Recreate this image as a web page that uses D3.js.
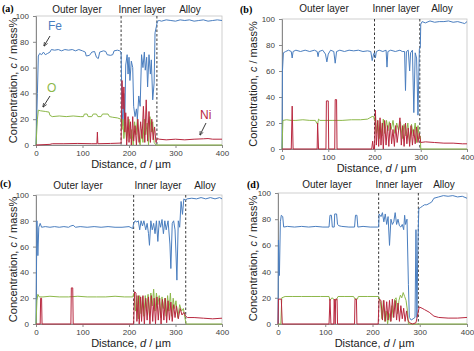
<!DOCTYPE html>
<html>
<head>
<meta charset="utf-8">
<script src="https://cdn.jsdelivr.net/npm/d3@7"></script>
<style>
  body { margin: 0; background: #fff; }
  text { font-family: "Liberation Sans", Arial, sans-serif; }
</style>
</head>
<body>
<div id="plot"></div>
<script>
// tick values and layer names
var xTicks = [0, 100, 200, 300, 400];
var yTicks = [0, 20, 40, 60, 80, 100];
var layerNames = ["Outer layer", "Inner layer", "Alloy"];
var panelNames = ["(a)", "(b)", "(c)", "(d)"];

// layer boundaries (µm) for each panel
var boundA = [183, 260], boundB = [200, 298], boundC = [210, 322], boundD = [213, 297];

// panel (a)  [d (µm), c (mass%)]
var feA = [[0,0],[3,40],[5,69],[8,71],[12,70],[16,72],[20,70],[25,71],[30,72],[33,74],[40,73.5],[48,74],[55,73],[62,74],[70,73.5],[78,74],[85,73],[92,74],[100,73],[106,72],[108,69],[115,69.5],[120,72],[126,72.5],[130,68],[134,67],[137,72],[145,73],[150,72.5],[153,70],[160,69.5],[165,70],[168,73],[175,73.5],[180,73],[183,72],[185,30],[187,15],[189,40],[191,20],[193,62],[196,70],[198,55],[200,68],[202,50],[205,65],[208,60],[210,30],[213,22],[216,28],[218,20],[221,38],[224,30],[227,70],[230,60],[233,72],[235,58],[238,68],[240,45],[243,70],[246,55],[248,66],[251,35],[254,48],[256,87],[259,92],[261,96],[265,96.5],[270,96],[280,97],[290,96.5],[300,96],[310,97],[320,96.5],[330,97],[340,96],[350,96.5],[360,97],[370,96],[380,96.5],[390,97],[400,96.5]];
var oA = [[0,0],[3,20],[5,27],[10,26.5],[20,26],[28,25.5],[30,23],[35,22],[50,22.5],[65,22],[80,22.5],[95,22],[102,22],[104,24],[110,24],[112,22],[120,22],[123,24],[130,24],[133,22],[140,22],[143,24],[155,24],[158,22],[165,21.5],[175,21],[183,20],[185,12],[187,20],[189,5],[192,18],[195,3],[198,15],[200,20],[203,5],[206,12],[209,0],[212,18],[215,8],[218,20],[221,3],[224,0],[227,12],[230,2],[233,20],[236,8],[239,17],[242,0],[245,22],[248,10],[251,18],[254,2],[258,0],[400,0]];
var niA = [[0,0],[30,0.5],[35,1],[60,1],[90,1.2],[120,1],[131,1],[132,10],[133,1],[160,1.2],[183,1.5],[185,50],[187,28],[189,45],[191,10],[193,25],[195,0],[198,22],[200,2],[203,18],[205,0],[208,22],[210,3],[213,15],[216,0],[219,20],[222,2],[225,18],[228,5],[231,30],[234,2],[237,35],[240,3],[243,26],[246,2],[249,20],[252,4],[255,14],[258,2],[261,5],[265,4.5],[280,4],[300,4.5],[320,4],[340,4.5],[360,4.8],[370,5],[380,4.5],[400,4.5]];

// panel (b)
var feB = [[0,0],[1,60],[3,74],[8,75],[14,76],[20,75],[22,70],[24,75],[30,76],[40,75],[50,76],[60,75],[70,76],[76,75],[78,71],[80,75],[88,76],[94,73],[97,67],[100,73],[105,76],[112,75],[115,66],[118,75],[125,76],[135,75],[145,76],[155,75.5],[165,76],[175,75],[185,75.5],[192,75],[195,68],[198,73],[200,74],[202,70],[204,75],[210,76],[218,75],[225,76],[227,63],[229,75],[235,76],[245,75],[255,76],[260,75],[265,75],[267,45],[269,75],[273,76],[276,60],[278,74],[282,76],[285,28],[288,74],[291,70],[294,26],[297,77],[299,78],[300,96],[303,98],[310,97],[320,98.5],[330,97.5],[340,98],[350,98],[360,98.5],[370,97.5],[380,98],[390,97],[395,96.5],[400,98]];
var oB = [[0,0],[2,22],[10,22.5],[20,22],[30,22],[45,22.5],[60,22],[72,22],[75,20],[77,19],[79,23],[82,22],[95,22],[110,22],[130,22],[150,22.5],[170,22.5],[185,23],[190,24],[195,25],[198,25],[200,22],[202,26],[204,12],[207,22],[210,8],[213,21],[216,10],[219,23],[222,12],[226,22],[229,14],[232,21],[236,15],[240,22],[244,12],[248,20],[252,14],[256,21],[260,8],[264,19],[268,10],[272,20],[276,5],[280,19],[284,10],[288,20],[291,5],[294,18],[297,8],[299,10],[300,0],[400,0]];
var niB = [[0,0],[20,0],[22,33],[24,0],[76,0],[77,20],[79,0],[95,0],[96,37],[100,37],[101,0],[114,0],[115,38],[118,38],[119,0],[194,0],[196,6],[198,0],[200,0],[202,30],[204,3],[207,22],[209,2],[212,24],[214,3],[217,20],[219,0],[222,22],[225,3],[228,18],[231,2],[234,20],[237,4],[240,15],[243,2],[246,18],[249,5],[252,14],[255,24],[258,3],[261,18],[264,2],[267,20],[270,4],[273,16],[276,2],[279,18],[282,3],[285,15],[288,4],[291,17],[294,5],[297,12],[300,5],[310,5.5],[330,5],[350,4.5],[370,4.5],[390,4],[400,4]];

// panel (c)
var feC = [[0,0],[2,80],[4,53],[6,75],[9,78],[12,75],[20,75.5],[30,75],[40,75.5],[50,75],[60,75.5],[70,75],[75,76],[80,76.5],[85,75],[95,75.5],[110,75],[125,75.5],[140,75],[155,75.5],[170,75],[185,75],[200,75.5],[208,74],[210,78],[213,80],[217,79],[220,80],[223,73],[226,80],[229,76],[232,80],[236,73],[239,78],[242,70],[244,61],[247,80],[250,73],[253,78],[256,70],[259,80],[262,64],[265,80],[268,75],[271,81],[274,70],[277,80],[280,73],[284,80],[288,62],[290,43],[293,78],[296,80],[299,73],[301,55],[303,34],[306,80],[309,75],[312,95],[315,85],[318,97],[321,96],[325,97],[335,97.5],[345,97],[355,98],[365,97],[375,98],[385,97],[395,98],[400,97]];
var oC = [[0,0],[2,18],[4,23],[7,21],[15,21],[30,21.5],[50,21],[70,21],[90,21.5],[110,21],[130,21],[150,21],[170,21.5],[190,21],[208,21],[211,24],[214,10],[217,22],[220,4],[223,22],[226,8],[229,21],[232,6],[235,22],[238,12],[241,23],[244,6],[247,24],[250,14],[253,27],[256,10],[259,24],[262,15],[265,22],[268,5],[271,21],[274,12],[277,20],[280,6],[283,22],[286,10],[289,24],[292,6],[295,20],[298,12],[301,18],[305,5],[309,15],[313,10],[317,12],[320,5],[323,0],[400,0]];
var niC = [[0,0],[9,0],[10,20],[12,20],[13,0],[75,0],[76,28],[79,28],[80,0],[210,0],[212,25],[215,24],[217,2],[220,22],[222,0],[225,21],[227,2],[230,22],[233,0],[236,20],[239,3],[242,21],[245,0],[248,22],[251,2],[254,20],[257,0],[260,21],[263,3],[266,20],[269,0],[272,19],[275,3],[278,20],[281,1],[284,18],[287,3],[290,17],[293,2],[296,15],[299,5],[302,14],[306,4],[310,12],[314,7],[318,9],[322,6],[326,5],[340,5],[360,4.5],[380,4],[400,4.5]];

// panel (d)
var feD = [[0,0],[1,64],[3,37],[5,78],[7,83],[10,82],[12,74],[20,74.5],[35,74],[50,74.5],[65,74],[80,74.5],[95,74],[108,74],[110,83],[113,83],[115,74],[119,74],[120,84],[124,84],[126,76],[129,75],[135,74.5],[150,74],[162,74],[164,83],[167,83],[169,74],[180,74.5],[195,74],[210,74],[213,74],[214,84],[218,82],[221,85],[224,78],[227,84],[230,76],[233,82],[236,60],[239,80],[242,76],[245,78],[248,85],[251,76],[254,80],[257,75],[260,74],[263,76],[266,72],[268,83],[270,76],[273,80],[276,30],[278,5],[282,3],[286,4],[290,5],[292,72],[294,5],[296,60],[298,88],[302,89],[306,90],[310,91],[315,91],[320,92],[325,93],[330,96],[340,97],[350,98],[360,97.5],[370,98],[380,97],[390,97.5],[400,96]];
var oD = [[0,0],[6,0],[8,20],[15,21],[30,21],[50,21],[70,21],[90,21],[108,21],[110,18],[114,20],[118,19],[123,18],[127,21],[140,21],[160,21],[163,19],[168,19],[170,21],[190,21],[212,21],[214,20],[217,16],[220,4],[223,18],[226,2],[229,10],[232,0],[235,8],[238,2],[241,14],[244,5],[247,19],[250,20],[253,8],[256,18],[259,22],[262,20],[265,24],[268,21],[271,18],[274,10],[276,0],[400,0]];
var niD = [[0,0],[1,19],[7,19],[9,0],[108,0],[110,19],[112,0],[118,0],[119,19],[121,0],[122,19],[125,19],[126,0],[162,0],[163,19],[166,19],[167,0],[212,0],[214,19],[218,18],[221,3],[224,18],[227,2],[230,17],[233,3],[236,18],[239,2],[242,19],[245,5],[248,18],[251,3],[254,16],[257,2],[260,14],[263,4],[266,12],[269,2],[272,10],[275,3],[278,1],[285,0],[292,1],[296,8],[299,13],[305,12],[310,11],[320,9],[330,6],[340,5],[360,4.5],[380,4.5],[400,5]];

var colFe = "#4a7ebf", colO = "#8db84a", colNi = "#b8283f";

// plot boxes and label spots (pixels)
var panels = [
  {name: panelNames[0], x0: 36, x1: 222, y0: 16, y1: 145, fe: feA, o: oA, ni: niA, bound: boundA,
   lbl: [2, 12], layerX: [77, 142, 190], layerY: 13, titleX: 13},
  {name: panelNames[1], x0: 282, x1: 467, y0: 19, y1: 149, fe: feB, o: oB, ni: niB, bound: boundB,
   lbl: [240, 13], layerX: [324, 396, 442], layerY: 12, titleX: 253},
  {name: panelNames[2], x0: 36, x1: 222, y0: 195, y1: 324, fe: feC, o: oC, ni: niC, bound: boundC,
   lbl: [0, 187], layerX: [78, 158, 205], layerY: 189, titleX: 13},
  {name: panelNames[3], x0: 278, x1: 467, y0: 193, y1: 324, fe: feD, o: oD, ni: niD, bound: boundD,
   lbl: [247, 188], layerX: [327, 399, 444], layerY: 188, titleX: 253}
];

var svg = d3.select("#plot")
  .append("svg")
    .attr("width", 474)
    .attr("height", 351)

panels.forEach(function(p) {
  var xScale = d3.scaleLinear().domain([0, 400]).range([p.x0, p.x1])
  var yScale = d3.scaleLinear().domain([0, 100]).range([p.y1, p.y0])

  var g = svg.append("g")

  // plot frame
  g.append("rect")
    .attr("x", p.x0).attr("y", p.y0)
    .attr("width", p.x1 - p.x0).attr("height", p.y1 - p.y0)
    .attr("fill", "none").attr("stroke", "#c4c4c4").attr("stroke-width", 0.8)

  var xAxis = g.append("g")
    .attr("transform", "translate(0," + p.y1 + ")")
    .call(d3.axisBottom(xScale).tickValues(xTicks).tickSize(3).tickPadding(2))
  var yAxis = g.append("g")
    .attr("transform", "translate(" + p.x0 + ",0)")
    .call(d3.axisLeft(yScale).tickValues(yTicks).tickSize(3).tickPadding(4))
  ;[xAxis, yAxis].forEach(function(ax) {
    ax.select(".domain").attr("stroke", "#8a8a8a")
    ax.selectAll(".tick line").attr("stroke", "#8a8a8a")
    ax.selectAll(".tick text").attr("fill", "#404040").style("font-size", "8px")
      .style("font-family", "'Liberation Sans', Arial, sans-serif")
  })

  // dashed layer boundaries
  p.bound.forEach(function(b) {
    g.append("line")
      .attr("x1", xScale(b)).attr("x2", xScale(b))
      .attr("y1", yScale(100)).attr("y2", yScale(0))
      .attr("stroke", "#222").attr("stroke-width", 0.9)
      .attr("stroke-dasharray", "2.5,2")
  })

  var line = d3.line()
    .x(d => xScale(d[0]))
    .y(d => yScale(d[1]))

  ;[[p.fe, colFe], [p.o, colO], [p.ni, colNi]].forEach(function(s) {
    g.append("path")
      .datum(s[0])
      .attr("d", line)
      .attr("fill", "none")
      .attr("stroke", s[1])
      .attr("stroke-width", 1)
      .attr("stroke-linejoin", "round")
  })

  // texts
  g.append("text")
    .attr("x", p.lbl[0]).attr("y", p.lbl[1])
    .style("font-family", "'Liberation Serif', 'Times New Roman', serif")
    .style("font-weight", "bold").style("font-size", "10px")
    .text(p.name)

  layerNames.forEach(function(t, i) {
    g.append("text")
      .attr("x", p.layerX[i]).attr("y", p.layerY)
      .attr("text-anchor", "middle")
      .style("font-size", "10px").attr("fill", "#222")
      .text(t)
  })

  var yt = g.append("text")
    .attr("transform", "translate(" + (p.titleX + 4) + "," + ((p.y0 + p.y1) / 2) + ") rotate(-90)")
    .attr("text-anchor", "middle")
    .style("font-size", "11px").attr("fill", "#222")
  yt.append("tspan").text("Concentration, ")
  yt.append("tspan").style("font-style", "italic").text("c")
  yt.append("tspan").text(" / mass%")

  var xt = g.append("text")
    .attr("x", (p.x0 + p.x1) / 2 + 2).attr("y", p.y1 + 23)
    .attr("text-anchor", "middle")
    .style("font-size", "11px").attr("fill", "#222")
  xt.append("tspan").text("Distance, ")
  xt.append("tspan").style("font-style", "italic").text("d")
  xt.append("tspan").text(" / µm")
})

// element callouts in panel (a)
var callouts = [
  {t: "Fe", c: colFe, tx: 48, ty: 30, a: [50, 36, 44, 46]},
  {t: "O", c: colO, tx: 47, ty: 92, a: [50, 96, 43, 107]},
  {t: "Ni", c: colNi, tx: 200, ty: 119, a: [206, 123, 200, 135]}
];
var defs = svg.append("defs")
defs.append("marker")
  .attr("id", "arr").attr("viewBox", "0 0 10 10")
  .attr("refX", 9).attr("refY", 5)
  .attr("markerWidth", 5).attr("markerHeight", 5)
  .attr("orient", "auto")
  .append("path").attr("d", "M0,1 L10,5 L0,9").attr("fill", "none").attr("stroke", "#222").attr("stroke-width", 1.5)

callouts.forEach(function(c) {
  svg.append("text")
    .attr("x", c.tx).attr("y", c.ty)
    .style("font-size", "12px").attr("fill", c.c)
    .text(c.t)
  svg.append("line")
    .attr("x1", c.a[0]).attr("y1", c.a[1]).attr("x2", c.a[2]).attr("y2", c.a[3])
    .attr("stroke", "#222").attr("stroke-width", 0.9)
    .attr("marker-end", "url(#arr)")
})
</script>
</body>
</html>
